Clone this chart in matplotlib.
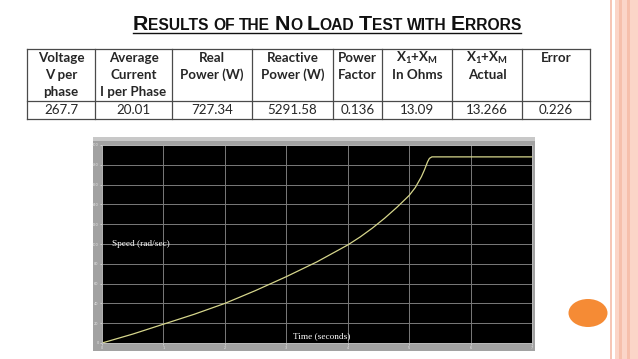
import matplotlib
matplotlib.use('Agg')
import matplotlib.pyplot as plt
from matplotlib.patches import Rectangle, Ellipse
from matplotlib.lines import Line2D
from matplotlib import font_manager

# ---------------- data ----------------
title_text = "Results of the No Load Test with Errors"

header_lines = [
    ["Voltage", "V per", "phase"],
    ["Average", "Current", "I per Phase"],
    ["Real", "Power (W)"],
    ["Reactive", "Power (W)"],
    ["Power", "Factor"],
    [r"X$_\mathregular{1}$+X$_\mathregular{M}$", "In Ohms"],
    [r"X$_\mathregular{1}$+X$_\mathregular{M}$", "Actual"],
    ["Error"],
]
row_values = ["267.7", "20.01", "727.34", "5291.58", "0.136", "13.09", "13.266", "0.226"]

time_s = [0, 0.5, 1.0, 1.5, 2.0, 2.5, 3.0, 3.5, 4.0, 4.2, 4.4, 4.6, 4.8, 4.9, 5.0,
          5.1, 5.2, 5.25, 5.3, 5.33, 5.37, 7.0]
speed = [0, 9, 19, 29, 40, 53, 67, 82, 99, 107, 116, 126, 137, 143, 149,
         157, 168, 175, 183, 186.5, 188, 188]

x_ticks = [0, 1, 2, 3, 4, 5, 6, 7]
y_ticks = [0, 20, 40, 60, 80, 100, 120, 140, 160, 180, 200]

# ---------------- layout ----------------
W, H = 638, 359
fig = plt.figure(figsize=(W / 100, H / 100), dpi=100)
fig.patch.set_facecolor('white')


def fx(x):
    return x / W


def fy(y):
    return 1 - y / H


# right decoration
fig.add_artist(Rectangle((fx(610), 0), 2 / W, 1, transform=fig.transFigure,
                         color='#f6c6b6', lw=0, zorder=-5))
fig.add_artist(Rectangle((fx(615), 0), 23 / W, 1, transform=fig.transFigure,
                         color='#fbd5c8', lw=0, zorder=-5))
for xs in (619, 627):
    fig.add_artist(Rectangle((fx(xs), 0), 3 / W, 1, transform=fig.transFigure,
                             color='#f6bfab', lw=0, zorder=-4))
fig.add_artist(Ellipse((fx(588), fy(313)), 39 / W, 28 / H, transform=fig.transFigure,
                       color='#f58b35', lw=0, zorder=2))

# ---------------- title (small caps) ----------------
renderer = fig.canvas.get_renderer()
title_font = 'Liberation Sans Narrow'
try:
    font_manager.findfont(title_font, fallback_to_default=False)
except Exception:
    title_font = 'Liberation Sans'

pieces = []
for word in title_text.split(' '):
    if word[0].isupper():
        pieces.append((word[0], True))
        if len(word) > 1:
            pieces.append((word[1:].upper(), False))
    else:
        pieces.append((word.upper(), False))
    pieces.append((' ', False))
pieces = pieces[:-1]

big, small = 15.0, 11.0


def measure(scale):
    ws = []
    for s, b in pieces:
        t = fig.text(0, 0, s if s != ' ' else 'a a', fontsize=(big if b else small) * scale,
                     fontweight='bold', family=title_font)
        w = t.get_window_extent(renderer).width
        if s == ' ':
            t2 = fig.text(0, 0, 'aa', fontsize=small * scale, fontweight='bold', family=title_font)
            w = w - t2.get_window_extent(renderer).width
            t2.remove()
        t.remove()
        ws.append(w)
    return ws


target_left, target_right = 133, 521
ws = measure(1.0)
scale = (target_right - target_left) / sum(ws)
ws = measure(scale)
x = target_left
base_y = 30.5
for (s, b), w in zip(pieces, ws):
    if s != ' ':
        fig.text(fx(x), fy(base_y), s, fontsize=(big if b else small) * scale,
                 fontweight='bold', family=title_font, color='#111111',
                 ha='left', va='baseline')
    x += w
fig.add_artist(Line2D([fx(target_left), fx(x)], [fy(33), fy(33)], transform=fig.transFigure,
                      color='#111111', lw=1.0))

# ---------------- table ----------------
col_edges = [27, 95, 172, 252, 333, 382, 452, 522, 590]
row_top, row_mid, row_bot = 49, 101, 119
line_c = '#4a4a4a'
for xe in col_edges:
    fig.add_artist(Line2D([fx(xe), fx(xe)], [fy(row_top), fy(row_bot)],
                          transform=fig.transFigure, color=line_c, lw=0.9))
for ye in (row_top, row_mid, row_bot):
    fig.add_artist(Line2D([fx(col_edges[0]), fx(col_edges[-1])], [fy(ye), fy(ye)],
                          transform=fig.transFigure, color=line_c, lw=0.9))

tfont = 'Lato'
for i, lines in enumerate(header_lines):
    cx = (col_edges[i] + col_edges[i + 1]) / 2
    for j, s in enumerate(lines):
        fig.text(fx(cx), fy(58 + 17 * j), s, ha='center', va='center', fontsize=9.6,
                 fontweight='bold', family=tfont, color='#262626')
    fig.text(fx(cx), fy(110.5), row_values[i], ha='center', va='center', fontsize=9.6,
             family=tfont, color='#262626')

# ---------------- scope plot ----------------
fig.add_artist(Rectangle((fx(93), fy(351)), (535 - 93) / W, (351 - 141) / H,
                         transform=fig.transFigure, color='#a2a2a2', lw=0, zorder=-3))
fig.add_artist(Rectangle((fx(93), fy(141)), (535 - 93) / W, 4 / H,
                         transform=fig.transFigure, color='#c8c8c8', lw=0, zorder=-2))

ax = fig.add_axes([fx(102), fy(343), (532 - 102) / W, (343 - 145) / H])
ax.set_facecolor('black')
ax.set_xlim(0, 7)
ax.set_ylim(0, 200)
ax.set_xticks(x_ticks)
ax.set_yticks(y_ticks)
ax.set_xticklabels([str(v) for v in x_ticks])
ax.set_yticklabels([str(v) for v in y_ticks])
ax.tick_params(labelsize=2.5, labelcolor='#e8e8e8', color='#dddddd', length=1.5, width=0.5, pad=1)
ax.grid(True, color='#7a7a7a', lw=0.7)
ax.set_axisbelow(True)
for sp in ax.spines.values():
    sp.set_color('#bdbdbd')
    sp.set_linewidth(0.6)

ax.plot(time_s, speed, color='#d6d68c', lw=0.9)

ax.text(0.16, 100, 'Speed (rad/sec)', color='white', fontsize=6.7, family='Liberation Serif',
        ha='left', va='center')
ax.text(3.58, 7, 'Time (seconds)', color='white', fontsize=6.7, family='Liberation Serif',
        ha='center', va='center')

fig.savefig('out.png', dpi=100, facecolor='white')
